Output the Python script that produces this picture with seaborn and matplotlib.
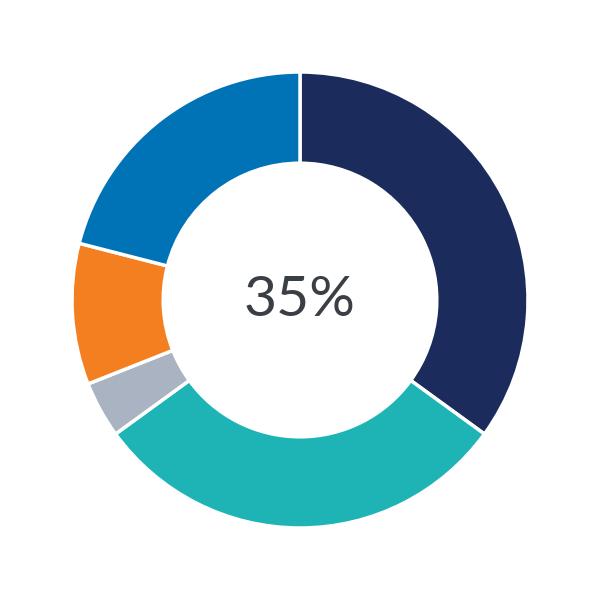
import matplotlib
matplotlib.use("Agg")
import matplotlib.pyplot as plt
import seaborn as sns

labels = ["Navy", "Teal", "Gray", "Orange", "Blue"]
values = [35, 30, 4, 10, 21]
colors = ["#1b2b5b", "#1eb4b6", "#a9b3c1", "#f47f20", "#0073b7"]
center_label = "35%"

sns.set_theme(style="white")
plt.rcParams["font.family"] = ["Lato", "DejaVu Sans"]

fig = plt.figure(figsize=(6, 6), dpi=100)
ax = fig.add_axes([0, 0, 1, 1])
ax.pie(values, colors=sns.color_palette(colors), startangle=90, counterclock=False,
       radius=1, wedgeprops=dict(width=0.4, edgecolor="white", linewidth=2.5))
lim = 300 / 228
ax.set_xlim(-lim, lim)
ax.set_ylim(-lim, lim)
ax.set_aspect("equal")
ax.axis("off")
ax.text(0, 0, center_label, ha="center", va="center", fontsize=41,
        color="#3a3f45", fontweight="normal")
fig.savefig("out.png", dpi=100, facecolor="white")
